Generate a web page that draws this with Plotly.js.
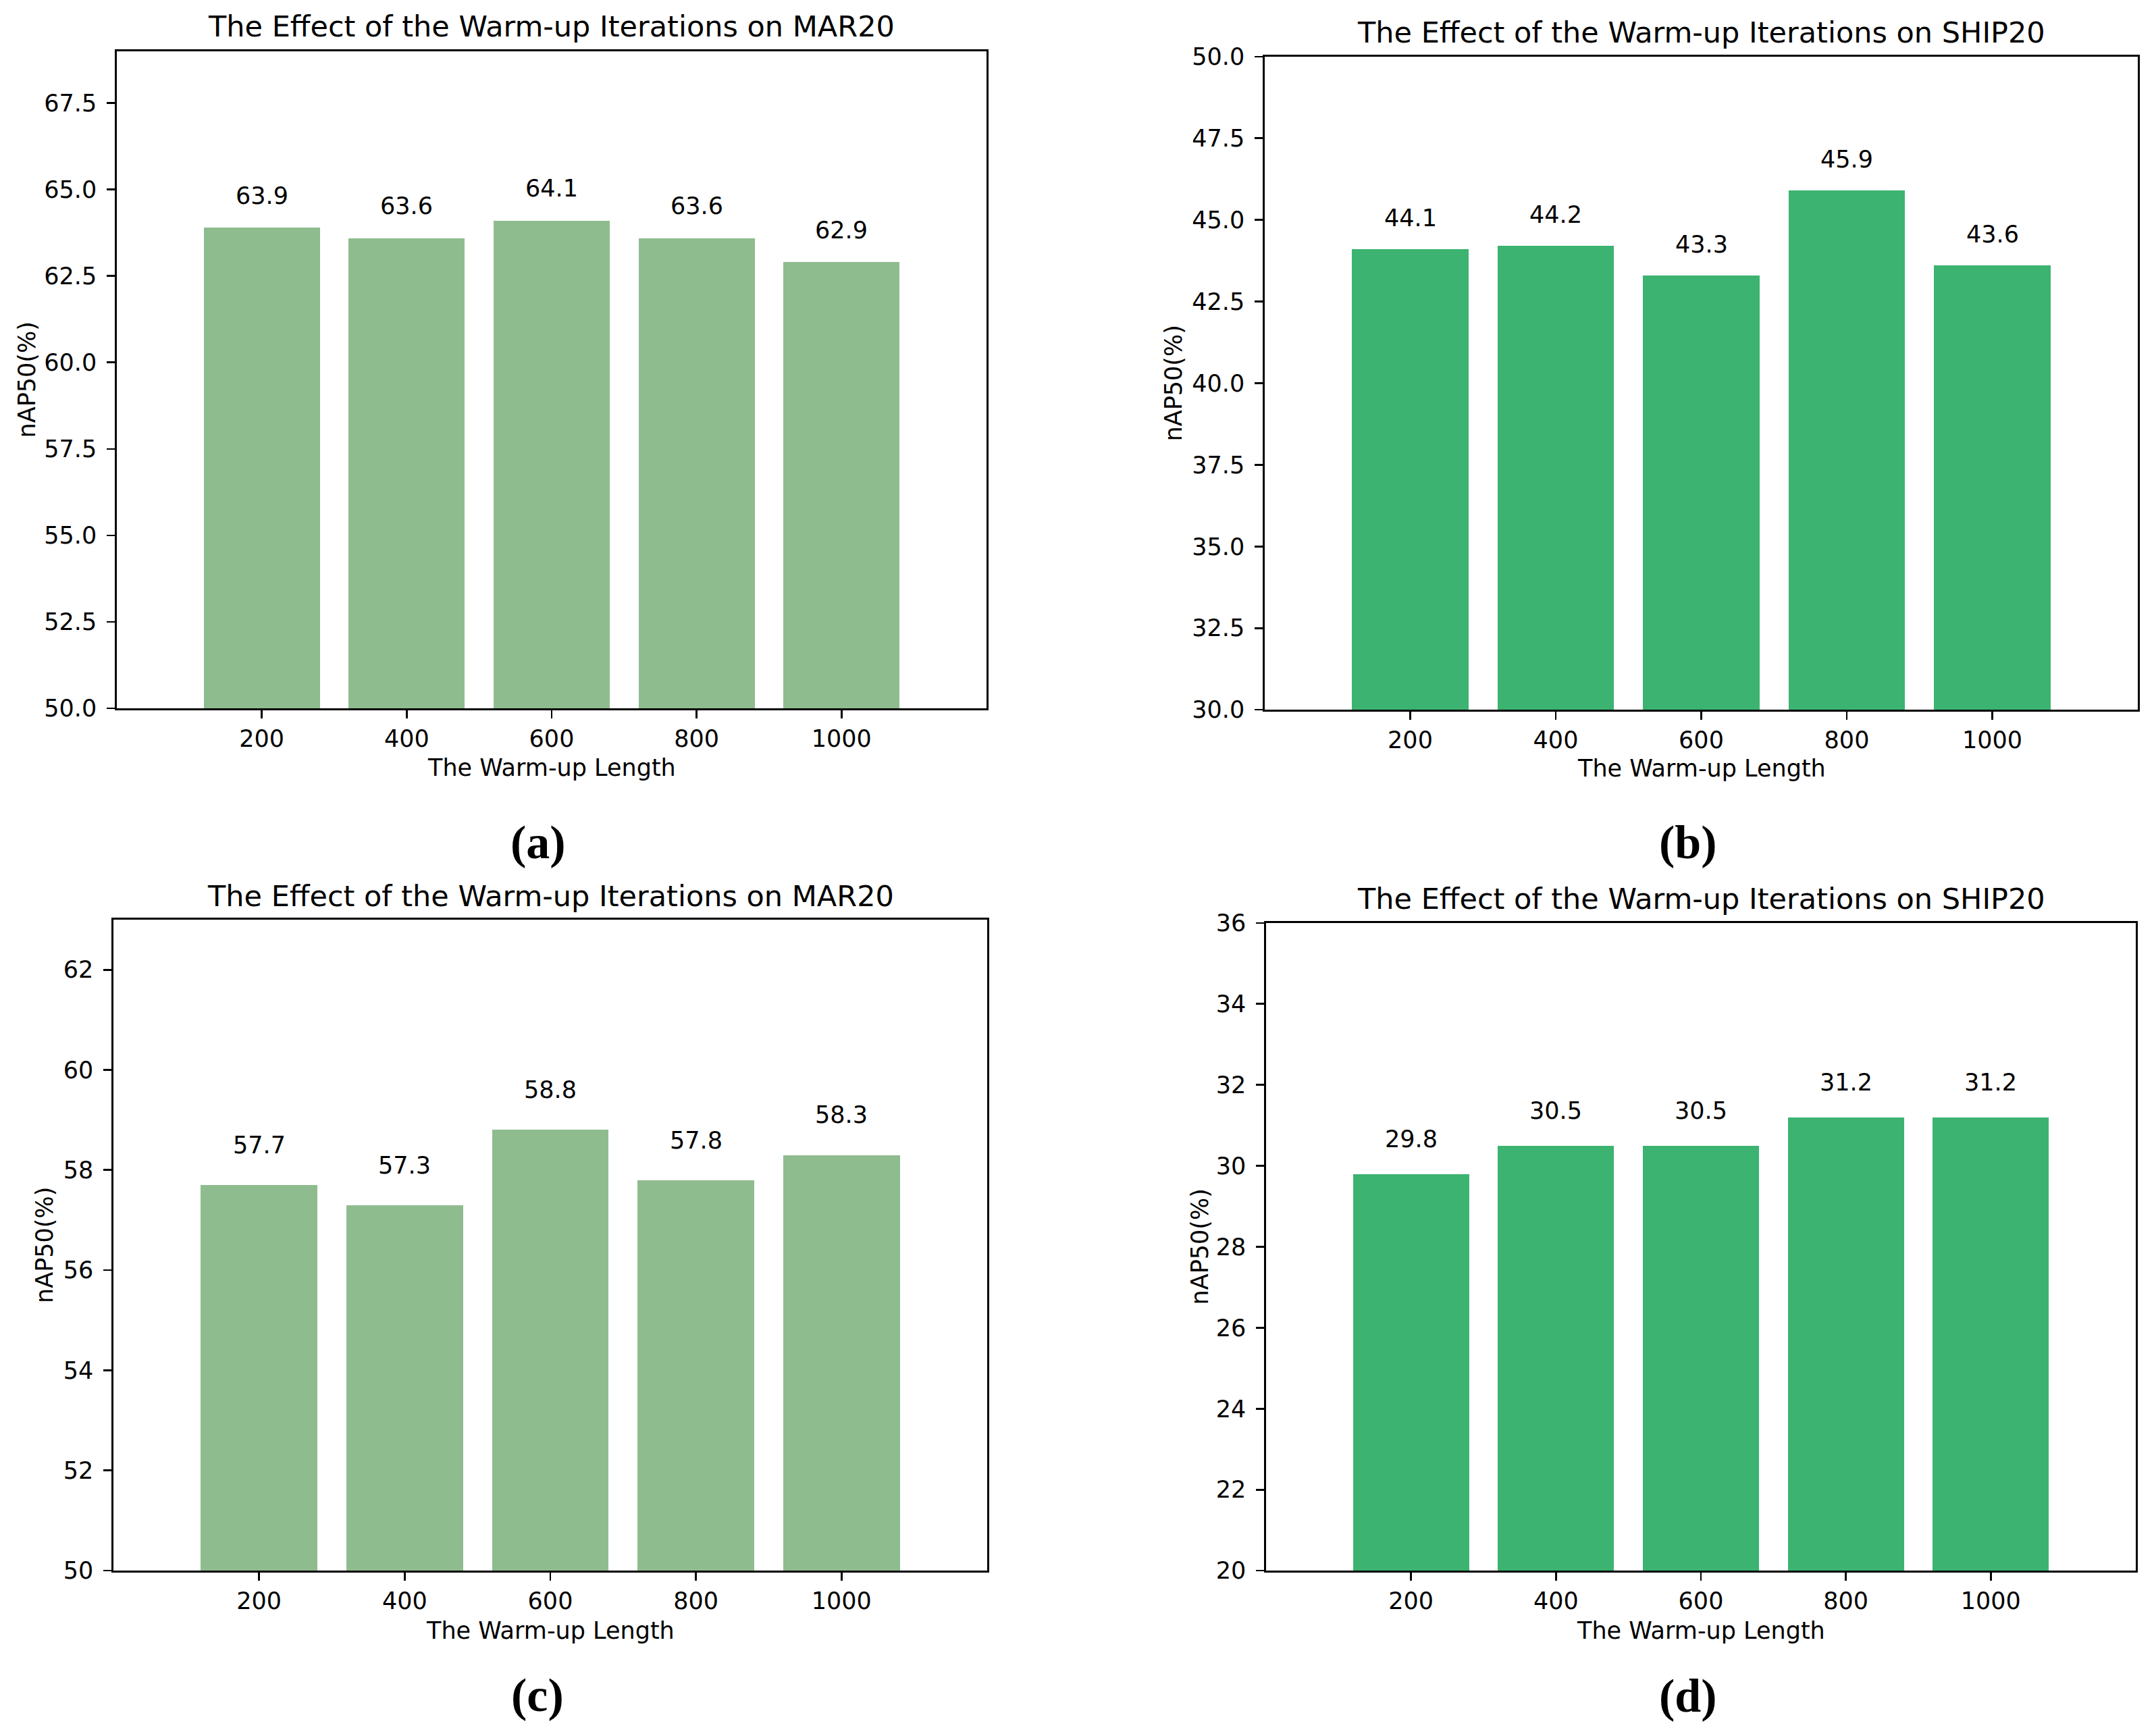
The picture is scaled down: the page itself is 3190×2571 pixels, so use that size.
<!DOCTYPE html>
<html>
<head>
<meta charset="utf-8">
<script src="https://cdn.plot.ly/plotly-3.0.1.min.js"></script>
<style>html,body{margin:0;padding:0;background:#fff;}</style>
</head>
<body>
<div id="chart" style="width:3190px;height:2571px;"></div>
<script>
// ---- data ----
const warmupLengths = [200, 400, 600, 800, 1000];
const tickLabels = ['200', '400', '600', '800', '1000'];
const marA = [63.9, 63.6, 64.1, 63.6, 62.9];
const shipB = [44.1, 44.2, 43.3, 45.9, 43.6];
const marC = [57.7, 57.3, 58.8, 57.8, 58.3];
const shipD = [29.8, 30.5, 30.5, 31.2, 31.2];
const titles = [
  'The Effect of the Warm-up Iterations on MAR20',
  'The Effect of the Warm-up Iterations on SHIP20',
  'The Effect of the Warm-up Iterations on MAR20',
  'The Effect of the Warm-up Iterations on SHIP20'
];
const panelLabels = ['(a)', '(b)', '(c)', '(d)'];
const xTitle = 'The Warm-up Length';
const yTitle = 'nAP50(%)';

// ---- layout geometry (pixels) ----
const W = 3190, H = 2571;
const panels = [
  {vals: marA,  color: '#8FBC8F', l: 173,  r: 1461, t: 76,   b: 1049, yr: [50, 69], dt: 2.5, fmt: '.1f', titleY: 39,   xlabY: 1137, ylabX: 39,   capX: 797,  capY: 1247},
  {vals: shipB, color: '#3CB371', l: 1873, r: 3166, t: 84,   b: 1051, yr: [30, 50], dt: 2.5, fmt: '.1f', titleY: 48,   xlabY: 1138, ylabX: 1737, capX: 2500, capY: 1247},
  {vals: marC,  color: '#8FBC8F', l: 168,  r: 1462, t: 1362, b: 2326, yr: [50, 63], dt: 2,   fmt: 'd',   titleY: 1327, xlabY: 2415, ylabX: 66,   capX: 796,  capY: 2510},
  {vals: shipD, color: '#3CB371', l: 1875, r: 3163, t: 1367, b: 2326, yr: [20, 36], dt: 2,   fmt: 'd',   titleY: 1331, xlabY: 2415, ylabX: 1776, capX: 2500, capY: 2511}
];

const font = 'DejaVu Sans';
const data = [];
const layout = {
  width: W, height: H,
  margin: {l: 0, r: 0, t: 0, b: 0},
  paper_bgcolor: '#ffffff', plot_bgcolor: '#ffffff',
  showlegend: false,
  font: {family: font, size: 35, color: '#000'},
  bargap: 0,
  annotations: []
};

panels.forEach((p, i) => {
  const n = i + 1;
  const xa = n === 1 ? 'xaxis' : 'xaxis' + n;
  const ya = n === 1 ? 'yaxis' : 'yaxis' + n;
  const xr = n === 1 ? 'x' : 'x' + n;
  const yr = n === 1 ? 'y' : 'y' + n;
  data.push({
    type: 'bar', x: warmupLengths, y: p.vals, width: 160,
    xaxis: xr, yaxis: yr,
    marker: {color: p.color, line: {width: 0}},
    hoverinfo: 'none'
  });
  const axisCommon = {
    showline: true, linecolor: '#000', linewidth: 2.8, mirror: true,
    showgrid: false, zeroline: false,
    ticks: 'outside', ticklen: 12, tickwidth: 2.8, tickcolor: '#000',
    tickfont: {family: font, size: 35, color: '#000'}
  };
  layout[xa] = Object.assign({}, axisCommon, {
    domain: [p.l / W, p.r / W], anchor: yr, range: [0, 1200],
    tickmode: 'array', tickvals: warmupLengths, ticktext: tickLabels,
    ticklabelstandoff: 0
  });
  layout[ya] = Object.assign({}, axisCommon, {
    domain: [1 - p.b / H, 1 - p.t / H], anchor: xr, range: p.yr,
    tickmode: 'linear', tick0: p.yr[0], dtick: p.dt, tickformat: p.fmt,
    ticklabelstandoff: 8
  });
  // value labels
  p.vals.forEach((v, k) => {
    layout.annotations.push({
      xref: xr, yref: yr, x: warmupLengths[k], y: v + 0.5,
      text: v.toFixed(1), showarrow: false, xanchor: 'center', yanchor: 'bottom',
      font: {family: font, size: 35, color: '#000'}
    });
  });
  const cx = (p.l + p.r) / 2 / W;
  // title
  layout.annotations.push({
    xref: 'paper', yref: 'paper', x: cx, y: 1 - p.titleY / H,
    text: titles[i], showarrow: false, xanchor: 'center', yanchor: 'middle',
    font: {family: font, size: 43, color: '#000'}
  });
  // x title
  layout.annotations.push({
    xref: 'paper', yref: 'paper', x: cx, y: 1 - p.xlabY / H,
    text: xTitle, showarrow: false, xanchor: 'center', yanchor: 'middle',
    font: {family: font, size: 35, color: '#000'}
  });
  // y title
  layout.annotations.push({
    xref: 'paper', yref: 'paper', x: p.ylabX / W, y: 1 - (p.t + p.b) / 2 / H,
    text: yTitle, showarrow: false, xanchor: 'center', yanchor: 'middle', textangle: -90,
    font: {family: font, size: 35, color: '#000'}
  });
  // panel caption
  layout.annotations.push({
    xref: 'paper', yref: 'paper', x: p.capX / W, y: 1 - p.capY / H,
    text: '<b>' + panelLabels[i] + '</b>', showarrow: false, xanchor: 'center', yanchor: 'middle',
    font: {family: 'Liberation Serif', size: 70, color: '#000'}
  });
});

Plotly.newPlot('chart', data, layout, {staticPlot: true, displayModeBar: false});
</script>
</body>
</html>
